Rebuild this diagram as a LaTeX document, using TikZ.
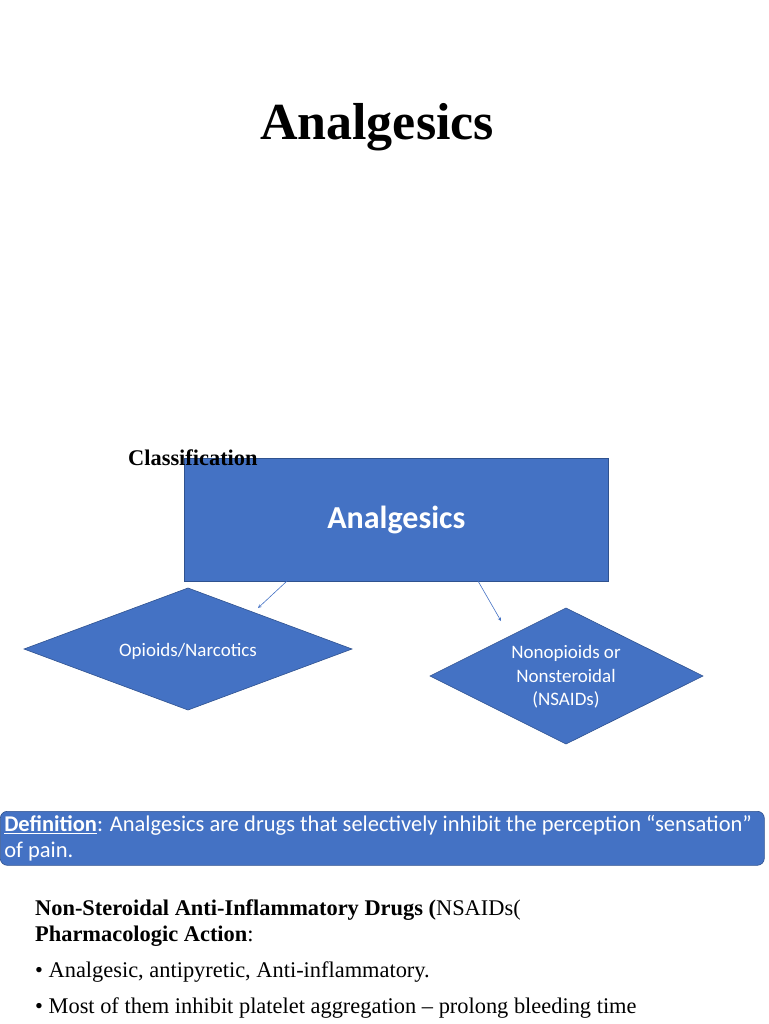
\documentclass[tikz,border=0pt]{standalone}
\usepackage{fontspec}
\setmainfont{Liberation Serif}
\newfontfamily\calib{Carlito}
\usetikzlibrary{shapes.geometric}
\definecolor{bl}{HTML}{4472C4}
\definecolor{bd}{HTML}{2F528F}
\begin{document}
\begin{tikzpicture}[x=1pt,y=-1pt,
  shp/.style={fill=bl,draw=bd,line width=0.6pt},
  con/.style={draw=bl,line width=0.6pt,-stealth},
  body/.style={anchor=west,font=\fontsize{22.4}{26}\selectfont,inner sep=0}]
\useasboundingbox (0,0) rectangle (768,1024);
\node[font=\fontsize{52}{60}\selectfont\bfseries] (title) at (377,127) {Analgesics};
\node[shp,minimum width=424,minimum height=123,anchor=north west,font=\calib\fontsize{32}{36}\selectfont\bfseries,text=white] (top) at (184,458) {Analgesics};
\node[anchor=west,font=\fontsize{22.4}{26}\selectfont\bfseries,inner sep=0] (cls) at (128,458) {Classification};
\draw[shp] (24,649) -- (188,588) -- (352,649) -- (188,710) -- cycle;
\node[font=\calib\fontsize{19}{22}\selectfont,text=white] (op) at (188,651) {Opioids/Narcotics};
\draw[shp] (430,676) -- (566,608) -- (703,676) -- (566,744) -- cycle;
\node[font=\calib\fontsize{19}{23.5}\selectfont,text=white,align=center] (non) at (566,677) {Nonopioids or\\Nonsteroidal\\(NSAIDs)};
\coordinate (a1) at (287,581); \coordinate (b1) at (258,608);
\coordinate (a2) at (478,581); \coordinate (b2) at (501,621);
\draw[con] (a1) -- (b1);
\draw[con] (a2) -- (b2);
\node[shp,rounded corners=7,minimum width=762,minimum height=54,anchor=north west,text width=756,align=flush left,inner xsep=4,inner ysep=2,font=\calib\fontsize{22.5}{26}\selectfont,text=white] (def) at (0,811) {\underline{\textbf{Definition}}: Analgesics are drugs that selectively inhibit the perception “sensation” of pain.};
\node[body] (l1) at (35,910) {\textbf{Non-Steroidal Anti-Inflammatory Drugs (}NSAIDs(};
\node[body] (l2) at (35,936) {\textbf{Pharmacologic Action}:};
\node[body] (l3) at (35,972) {• Analgesic, antipyretic, Anti-inflammatory.};
\node[body] (l4) at (35,1008) {• Most of them inhibit platelet aggregation – prolong bleeding time};
\end{tikzpicture}
\end{document}
